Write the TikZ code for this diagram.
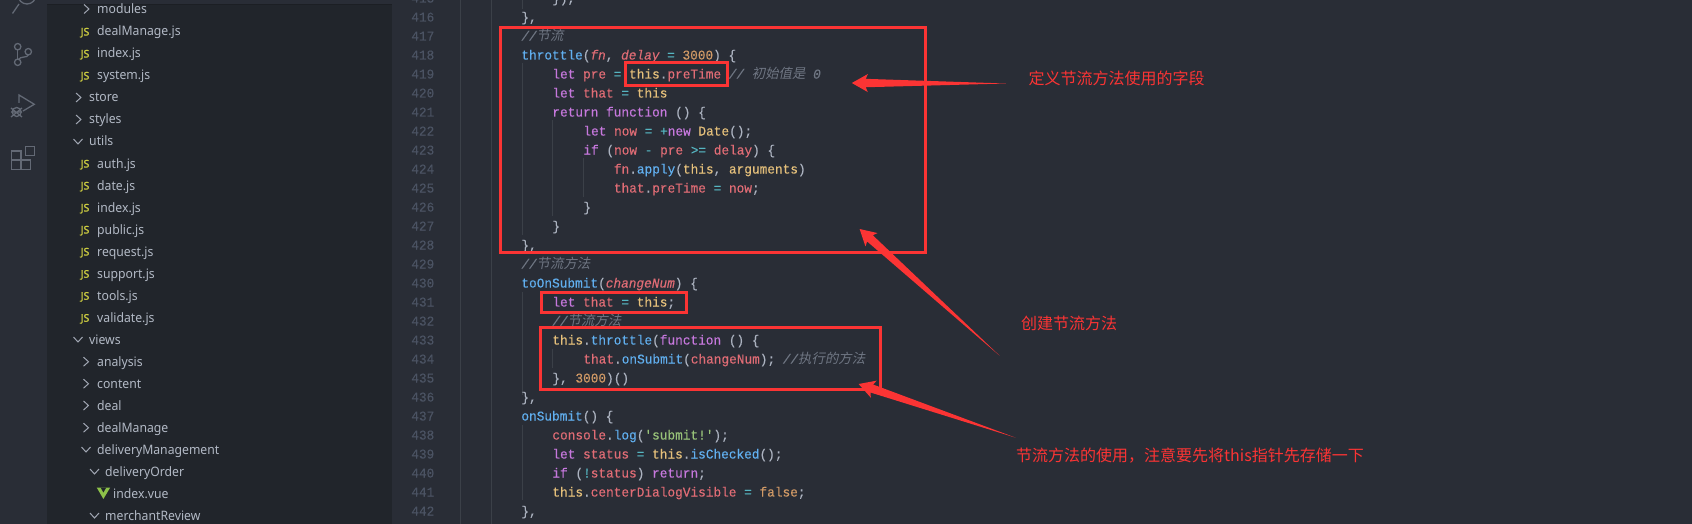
\documentclass[tikz,border=0pt]{standalone}
\usepackage{fontspec}
\usetikzlibrary{calc}
\newfontfamily\codefont[FakeStretch=0.954,FakeBold=0.25]{Liberation Mono}
\newfontfamily\cjkslant[FakeSlant=0.2]{Noto Sans CJK SC}
\newfontfamily\cjkfont{Noto Sans CJK SC}
\newfontfamily\sidefont[FakeStretch=0.94]{Noto Sans}
\newfontfamily\jsfont[FakeBold=1.2]{Noto Sans}
\definecolor{edbg}{HTML}{292D36}
\definecolor{sidebg}{HTML}{21252B}
\definecolor{sideline}{HTML}{1C1F24}
\definecolor{icon}{HTML}{636975}
\definecolor{sidetext}{HTML}{B2B9C5}
\definecolor{chev}{HTML}{A0A6B2}
\definecolor{jsy}{HTML}{CBCB41}
\definecolor{vueg}{HTML}{8DC149}
\definecolor{lnumc}{HTML}{4B5363}
\definecolor{guide}{HTML}{3B4048}
\definecolor{ckw}{HTML}{C678DD}
\definecolor{cfn}{HTML}{61AFEF}
\definecolor{cvr}{HTML}{E06C75}
\definecolor{cth}{HTML}{E5C07B}
\definecolor{cnm}{HTML}{D19A66}
\definecolor{ccm}{HTML}{6F7683}
\definecolor{cst}{HTML}{98C379}
\definecolor{cop}{HTML}{56B6C2}
\definecolor{cpn}{HTML}{ABB2BF}
\definecolor{redmark}{HTML}{FB3434}
\newcommand\ccK[1]{\textcolor{ckw}{#1}}
\newcommand\ccF[1]{\textcolor{cfn}{#1}}
\newcommand\ccV[1]{\textcolor{cvr}{#1}}
\newcommand\ccI[1]{\textcolor{cvr}{\itshape #1}}
\newcommand\ccT[1]{\textcolor{cth}{#1}}
\newcommand\ccN[1]{\textcolor{cnm}{#1}}
\newcommand\ccO[1]{\textcolor{cop}{#1}}
\newcommand\ccS[1]{\textcolor{cst}{#1}}
\newcommand\ccC[1]{\textcolor{ccm}{\itshape #1}}
\newcommand\ccZ[1]{\textcolor{ccm}{\cjkslant\fontsize{13.4}{16}\selectfont #1}}
\tikzset{
  x=1pt,y=-1pt,
  codeline/.style={anchor=base west,inner sep=0pt,text=cpn,font=\codefont\fontsize{13.4}{16}\selectfont},
  lnum/.style={anchor=base east,inner sep=0pt,text=lnumc,font=\codefont\fontsize{13.4}{16}\selectfont},
  siderow/.style={anchor=base west,inner sep=0pt,text=sidetext,font=\sidefont\fontsize{13}{16}\selectfont},
  jsicon/.style={anchor=base,inner sep=0pt,text=jsy,font=\jsfont\fontsize{10.5}{12}\selectfont},
  guideline/.style={draw=guide,line width=0.8pt},
  chevron/.style={draw=chev,line width=1pt},
  acticon/.style={draw=icon,line width=1.3pt},
  markbox/.style={draw=redmark,line width=3pt,fill=none},
  marktext/.style={anchor=west,inner sep=0pt,text=redmark,font=\cjkfont\fontsize{16}{20}\selectfont},
}
\newcommand\codeln[3]{\node[codeline] (l#1) at (#2-0.8,{21.5+19*(#1-416)}) {#3};}
\newcommand\chevR[2]{\draw[chevron] (#1-2.5,#2-4.5) -- (#1+2.5,#2) -- (#1-2.5,#2+4.5);}
\newcommand\chevD[2]{\draw[chevron] (#1-4.5,#2-2.5) -- (#1,#2+2.5) -- (#1+4.5,#2-2.5);}
\newcommand\jsfile[3]{\node[jsicon] (j#1) at (85,#1+4) {JS}; \node[siderow] (t#1) at (#2,#1+4.5) {#3};}
\newcommand\folder[3]{\node[siderow] (t#1) at (#2,#1+4.5) {#3};}
% tapered red arrow from a named tip to a named tail
\newcommand\redarrow[2]{%
  \coordinate (neck) at ($(#1)!14pt!(#2)$);
  \coordinate (back) at ($(#1)!16pt!(#2)$);
  \fill[redmark] (#1)
    -- ($(back)!9pt!90:(#2)$)
    -- ($(neck)!4.2pt!90:(#2)$)
    -- (#2)
    -- ($(neck)!4.2pt!-90:(#2)$)
    -- ($(back)!9pt!-90:(#2)$)
    -- cycle;}
\begin{document}
\begin{tikzpicture}
\useasboundingbox (0,0) rectangle (1692,524);
\clip (0,0) rectangle (1692,524);
% backgrounds
\fill[edbg] (0,0) rectangle (1692,524);
\fill[sidebg] (47,5) rectangle (392,524);
\draw[sideline,line width=1pt] (47,5) -- (392,5);
% activity bar icons
\draw[acticon] (27,-5) circle (9);
\draw[acticon] (19,4) -- (12.5,13.5);
\draw[acticon] (17.7,46.7) circle (3.2) (28.3,51.7) circle (3.2) (17.7,62.3) circle (3.2);
\draw[acticon] (17.7,50) -- (17.7,59);
\draw[acticon] (28.3,55) .. controls (28,58) and (20,56) .. (18.5,59.5);
\draw[acticon] (19,103) -- (19,95) -- (34.3,104.3) -- (23,111);
\draw[acticon] (16.7,112) circle (4.5);
\draw[acticon] (11,108) -- (22,117) (22,108) -- (11,117) (11,112) -- (22,112);
\draw[acticon] (11.7,151) rectangle (21,160) (11.7,160) rectangle (21,169.3) (21,160) rectangle (30.3,169.3);
\draw[acticon] (25.5,146.7) rectangle (34.7,155.7);
% explorer
\chevR{86.5}{9}\folder{9}{97}{modules}
\jsfile{31.5}{97}{dealManage.js}
\jsfile{53.5}{97}{index.js}
\jsfile{75.5}{97}{system.js}
\chevR{78.5}{97.5}\folder{97.5}{89}{store}
\chevR{78.5}{119.5}\folder{119.5}{89}{styles}
\chevD{78}{141.5}\folder{141.5}{89}{utils}
\jsfile{163.5}{97}{auth.js}
\jsfile{185.5}{97}{date.js}
\jsfile{207.5}{97}{index.js}
\jsfile{229.5}{97}{public.js}
\jsfile{251.5}{97}{request.js}
\jsfile{273.7}{97}{support.js}
\jsfile{295.7}{97}{tools.js}
\jsfile{317.7}{97}{validate.js}
\chevD{78}{339.5}\folder{339.5}{89}{views}
\chevR{86}{361.7}\folder{361.7}{97}{analysis}
\chevR{86}{383.7}\folder{383.7}{97}{content}
\chevR{86}{405.5}\folder{405.5}{97}{deal}
\chevR{86}{427.7}\folder{427.7}{97}{dealManage}
\chevD{86}{449.5}\folder{449.5}{97}{deliveryManagement}
\chevD{94.5}{471.5}\folder{471.5}{105}{deliveryOrder}
\fill[vueg] (96.7,487.5) -- (110.2,487.5) -- (103.4,499) -- cycle;
\fill[sidebg] (100.6,487.5) -- (106.3,487.5) -- (103.4,492.5) -- cycle;
\folder{493.5}{113}{index.vue}
\chevD{94.5}{515.5}\folder{515.5}{105}{merchantReview}
% indent guides
\draw[guideline] (460,0) -- (460,524) (491.3,0) -- (491.3,524);
\draw[guideline] (522,0) -- (522,9) (522,63) -- (522,235) (522,292) -- (522,395) (522,425) -- (522,500);
\draw[guideline] (552.5,120) -- (552.5,216) (552.5,349) -- (552.5,368);
\draw[guideline] (583.5,158) -- (583.5,197);
% line numbers
\foreach \n in {415,...,442} {\node[lnum] (n\n) at (434.5,{21.5+19*(\n-416)}) {\n};}
% code
\codeln{415}{553}{\}),}
\codeln{416}{522}{\},}
\codeln{417}{522}{\ccC{//}\ccZ{节流}}
\codeln{418}{522}{\ccF{throttle}(\ccI{fn}, \ccI{delay} \ccO{=} \ccN{3000}) \{}
\codeln{419}{553}{\ccK{let} \ccV{pre} \ccO{=} \ccT{this}.\ccV{preTime} \ccC{// }\ccZ{初始值是} \ccC{0}}
\codeln{420}{553}{\ccK{let} \ccV{that} \ccO{=} \ccT{this}}
\codeln{421}{553}{\ccK{return} \ccK{function} () \{}
\codeln{422}{584}{\ccK{let} \ccV{now} \ccO{=} \ccO{+}\ccK{new} \ccT{Date}();}
\codeln{423}{584}{\ccK{if} (\ccV{now} \ccO{-} \ccV{pre} \ccO{>=} \ccV{delay}) \{}
\codeln{424}{614.5}{\ccV{fn}.\ccF{apply}(\ccT{this}, \ccT{arguments})}
\codeln{425}{614.5}{\ccV{that}.\ccV{preTime} \ccO{=} \ccV{now};}
\codeln{426}{584}{\}}
\codeln{427}{553}{\}}
\codeln{428}{522}{\},}
\codeln{429}{522}{\ccC{//}\ccZ{节流方法}}
\codeln{430}{522}{\ccF{toOnSubmit}(\ccI{changeNum}) \{}
\codeln{431}{553}{\ccK{let} \ccV{that} \ccO{=} \ccT{this};}
\codeln{432}{553}{\ccC{//}\ccZ{节流方法}}
\codeln{433}{553}{\ccT{this}.\ccF{throttle}(\ccK{function} () \{}
\codeln{434}{584}{\ccV{that}.\ccF{onSubmit}(\ccV{changeNum}); \ccC{//}\ccZ{执行的方法}}
\codeln{435}{553}{\}, \ccN{3000})()}
\codeln{436}{522}{\},}
\codeln{437}{522}{\ccF{onSubmit}() \{}
\codeln{438}{553}{\ccV{console}.\ccF{log}(\ccS{\symbol{39}submit!\symbol{39}});}
\codeln{439}{553}{\ccK{let} \ccV{status} \ccO{=} \ccT{this}.\ccF{isChecked}();}
\codeln{440}{553}{\ccK{if} (\ccO{!}\ccV{status}) \ccK{return};}
\codeln{441}{553}{\ccT{this}.\ccV{centerDialogVisible} \ccO{=} \ccN{false};}
\codeln{442}{522}{\},}
% annotation boxes
\draw[markbox] (500,27.3) rectangle (925.8,252.3);
\draw[markbox] (625.5,63) rectangle (727.8,86);
\draw[markbox] (541.9,292) rectangle (686.8,312);
\draw[markbox] (540,327) rectangle (880.4,389.5);
% annotation labels
\node[marktext] (lab1) at (1028.5,78.5) {定义节流方法使用的字段};
\node[marktext] (lab2) at (1021,323) {创建节流方法};
\node[marktext] (lab3) at (1016,456) {节流方法的使用，注意要先将this指针先存储一下};
% annotation arrows
\coordinate (tip1) at (851.8,83);
\coordinate (tail1) at (1006,83.5);
\coordinate (tip2) at (859.6,229);
\coordinate (tail2) at (999.6,355.7);
\coordinate (tip3) at (858.6,384);
\coordinate (tail3) at (1015.7,437.7);
\redarrow{tip1}{tail1}
\redarrow{tip2}{tail2}
\redarrow{tip3}{tail3}
\end{tikzpicture}
\end{document}
